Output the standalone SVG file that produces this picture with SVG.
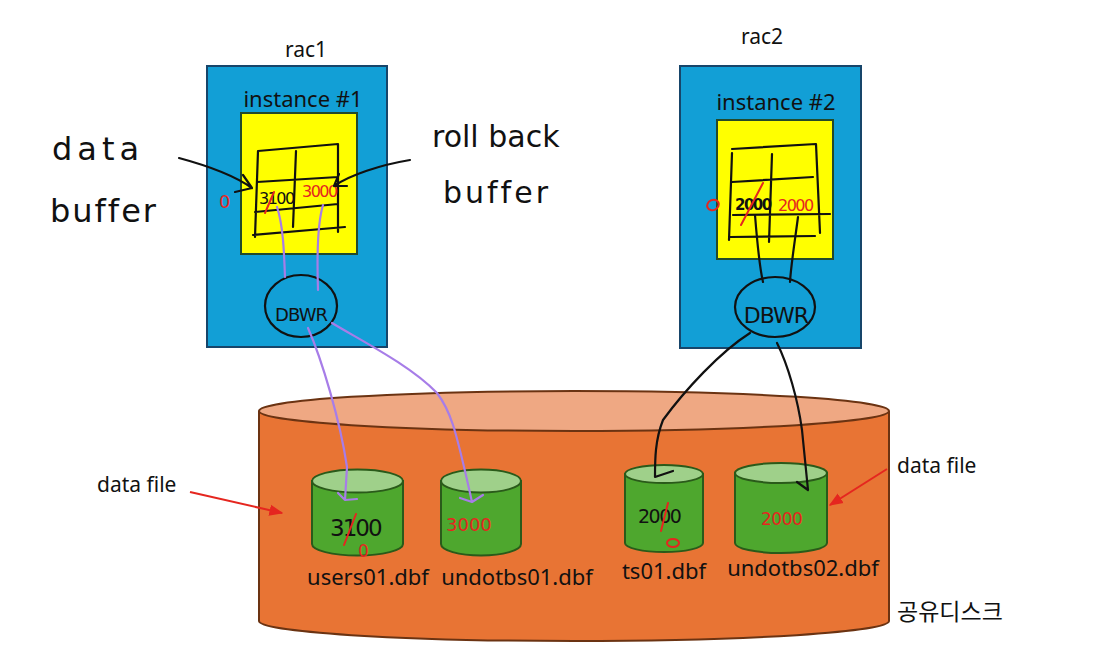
<svg xmlns="http://www.w3.org/2000/svg" width="1119" height="664" viewBox="0 0 1119 664">
<defs>
<style>
.lbl{font-family:"Noto Sans","Noto Sans CJK KR",sans-serif;fill:#111;}
.hand{font-family:"DejaVu Sans","Liberation Sans",sans-serif;fill:#111;}
.redh{font-family:"DejaVu Sans","Liberation Sans",sans-serif;fill:#e5261f;}
.box{fill:#129fd6;stroke:#17456a;stroke-width:2;}
.mem{fill:#ffff00;stroke:#234a2a;stroke-width:2;}
.ink{fill:none;stroke:#111;stroke-width:2.2;stroke-linecap:round;stroke-linejoin:round;}
.pur{fill:none;stroke:#a77de8;stroke-width:2.2;stroke-linecap:round;stroke-linejoin:round;}
.red{fill:none;stroke:#e5261f;stroke-width:2;stroke-linecap:round;}
.gbody{fill:#4ea72e;stroke:#2a5a1a;stroke-width:2;}
.gtop{fill:#9fd08a;stroke:#2a5a1a;stroke-width:2;}
</style>
<marker id="redArrow" viewBox="0 0 10 10" refX="9" refY="5" markerWidth="7" markerHeight="7" orient="auto">
<path d="M0,1 L10,5 L0,9 z" fill="#e5261f"/>
</marker>
</defs>
<rect width="1119" height="664" fill="#fff"/>

<g id="shared-disk">
<path d="M259,412 L259,621 A315,20 0 0 0 889,621 L889,412 Z" fill="#e87434" stroke="#6b3312" stroke-width="2"/>
<ellipse cx="574" cy="411" rx="315" ry="20" fill="#efa883" stroke="#6b3312" stroke-width="2"/>
<text class="lbl" x="897" y="620" font-size="23">공유디스크</text>
</g>

<g id="rac1">
<text class="lbl" x="306" y="57" font-size="21" text-anchor="middle">rac1</text>
<rect class="box" x="207" y="66" width="180" height="281"/>
<text class="lbl" x="303" y="107" font-size="22" text-anchor="middle">instance #1</text>
<rect class="mem" x="241" y="113" width="116" height="141"/>
<g id="grid1">
<path class="ink" d="M258,151 L338,144 M258,151 L255,237 M296,151 L293,227 M338,144 L338,232 M257,182 L338,177 M255,212 L338,204 M253,235 L345,227"/>
<text class="hand" x="259" y="204" font-size="16" letter-spacing="-1.5">3100</text>
<path class="red" d="M265,213 L274,192"/>
<text class="redh" x="302" y="197" font-size="16" letter-spacing="-1.5">3000</text>
<text class="redh" x="219" y="208" font-size="18">0</text>
</g>
<g id="dbwr1">
<ellipse cx="301" cy="306" rx="36" ry="31" fill="none" stroke="#111" stroke-width="2.2"/>
<text class="hand" x="301" y="321" font-size="18" text-anchor="middle" letter-spacing="-1">DBWR</text>
</g>
</g>

<g id="rac2">
<text class="lbl" x="762" y="44" font-size="21" text-anchor="middle">rac2</text>
<rect class="box" x="680" y="66" width="181" height="282"/>
<text class="lbl" x="776" y="110" font-size="22" text-anchor="middle">instance #2</text>
<rect class="mem" x="717" y="120" width="116" height="139"/>
<g id="grid2">
<path class="ink" d="M732,149 L816,144 M732,153 L729,240 M772,154 L769,242 M816,144 L820,233 M732,182 L813,177 M733,215 L830,214 M730,237 L815,236"/>
<text class="hand" x="735" y="210" font-size="15" letter-spacing="-1.5" font-weight="bold">2000</text>
<path class="red" d="M741,225 L763,183"/>
<text class="redh" x="778" y="211" font-size="16" letter-spacing="-1.5">2000</text>
<ellipse cx="713" cy="205" rx="6" ry="5" fill="none" stroke="#e5261f" stroke-width="2" transform="rotate(-25 713 205)"/>
</g>
<g id="dbwr2">
<ellipse cx="775" cy="307" rx="40" ry="30" fill="none" stroke="#111" stroke-width="2.2"/>
<text class="hand" x="776" y="323" font-size="22" text-anchor="middle" letter-spacing="-1">DBWR</text>
</g>
</g>

<g id="users01">
<path class="gbody" d="M312,481 L312,544 A45.5,11.5 0 0 0 403,544 L403,481 Z"/>
<ellipse class="gtop" cx="357.5" cy="481" rx="45.5" ry="11.5"/>
<text class="hand" x="330" y="536" font-size="23" letter-spacing="-2">3100</text>
<path class="red" d="M344,545 L356,514"/>
<text class="redh" x="358" y="557" font-size="17">0</text>
<text class="lbl" x="368" y="585" font-size="22" text-anchor="middle">users01.dbf</text>
</g>
<g id="undotbs01">
<path class="gbody" d="M441,481 L441,544 A40,11.5 0 0 0 521,544 L521,481 Z"/>
<ellipse class="gtop" cx="481" cy="481" rx="40" ry="11.5"/>
<text class="redh" x="446" y="531" font-size="18" letter-spacing="0">3000</text>
<text class="lbl" x="517" y="585" font-size="22" text-anchor="middle">undotbs01.dbf</text>
</g>
<g id="ts01">
<path class="gbody" d="M625,474 L625,543 A39,9 0 0 0 703,543 L703,474 Z"/>
<ellipse class="gtop" cx="664" cy="474" rx="39" ry="9"/>
<text class="hand" x="638" y="523" font-size="19" letter-spacing="-1.5">2000</text>
<path class="red" d="M661,531 L668,503"/>
<ellipse cx="673" cy="543" rx="6" ry="4" fill="none" stroke="#e5261f" stroke-width="2"/>
<text class="lbl" x="664" y="579" font-size="22" text-anchor="middle">ts01.dbf</text>
</g>
<g id="undotbs02">
<path class="gbody" d="M735,473 L735,543 A46,10 0 0 0 827,543 L827,473 Z"/>
<ellipse class="gtop" cx="781" cy="473" rx="46" ry="10"/>
<text class="redh" x="761" y="525" font-size="17" letter-spacing="-0.5">2000</text>
<text class="lbl" x="803" y="576" font-size="22" text-anchor="middle">undotbs02.dbf</text>
</g>

<g id="annotations">
<text class="hand" x="52" y="160" font-size="32" letter-spacing="5">data</text>
<text class="hand" x="50" y="222" font-size="32" letter-spacing="2">buffer</text>
<text class="hand" x="432" y="147" font-size="30" letter-spacing="0">roll back</text>
<text class="hand" x="443" y="203" font-size="30" letter-spacing="3">buffer</text>
<text class="lbl" x="97" y="492" font-size="21">data file</text>
<text class="lbl" x="897" y="473" font-size="21">data file</text>
</g>

<g id="connectors">
<path class="ink" d="M179,158 C205,165 235,176 252,188 M243,175 L252,188 L235,192"/>
<path class="ink" d="M410,160 C380,165 350,175 334,186 M339,174 L334,186 L347,186"/>
<path class="pur" d="M277,207 C283,225 284,250 285,277"/>
<path class="pur" d="M323,205 C317,225 317,260 318,290"/>
<path class="pur" d="M308,328 C322,360 340,420 347,467 L345,500 M338,493 L345,500 L357,499"/>
<path class="pur" d="M332,323 C360,340 410,365 437,393 C450,410 455,425 472,502 M460,498 L472,502 L483,495"/>
<path class="ink" d="M755,215 C757,240 759,265 763,282"/>
<path class="ink" d="M798,217 C795,240 791,265 790,282"/>
<path class="ink" d="M750,333 C720,352 685,390 663,420 C655,440 655,460 655,477 L673,471"/>
<path class="ink" d="M777,343 C788,365 798,400 802,430 L808,490 M797,482 L808,490"/>
<path d="M190,492 L282,513" fill="none" stroke="#e5261f" stroke-width="2" marker-end="url(#redArrow)"/>
<path d="M887,469 L830,505" fill="none" stroke="#e5261f" stroke-width="2" marker-end="url(#redArrow)"/>
</g>
</svg>
